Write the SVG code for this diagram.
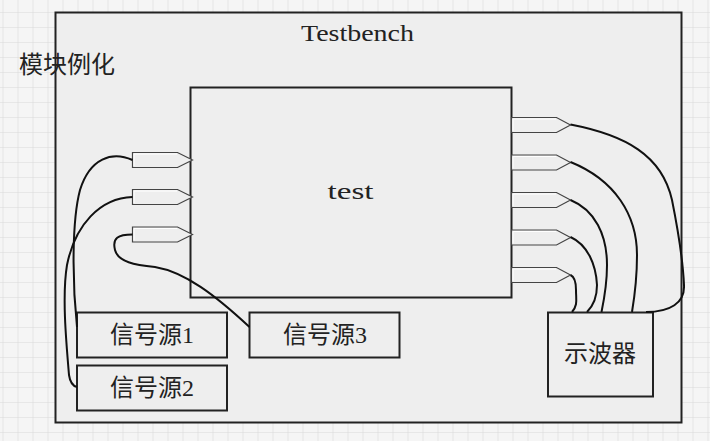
<svg xmlns="http://www.w3.org/2000/svg" width="710" height="441" viewBox="0 0 710 441">
<style>
.box{fill:#eeeeee;stroke:#222;stroke-width:2}
.port{fill:#eeeeee;stroke:#444;stroke-width:1.2}
.hl{fill:none;stroke:#ffffff;stroke-width:1}
.wire{fill:none;stroke:#111;stroke-width:2}
.t{font-family:"Liberation Serif","Noto Sans CJK SC",serif;font-size:24px;fill:#222}
</style>
<defs>
<pattern id="grid" x="2.5" y="12" width="15" height="15" patternUnits="userSpaceOnUse">
<rect width="15" height="15" fill="#f5f5f5"/>
<path d="M0,0 H15 M0,0 V15" stroke="#d9d9d9" stroke-width="1.2" fill="none"/>
</pattern>
<g id="portL"><path class="port" d="M0,0 H45 L60,7.5 L45,15 H0 Z"/><path class="hl" d="M1.5,13.5 V1.5 H44.5"/></g>
<g id="portR"><path class="port" d="M0,0 H45 L59,7.5 L45,15 H0 Z"/><path class="hl" d="M1.5,13.5 V1.5 H44.5"/></g>
</defs>
<rect width="710" height="441" fill="url(#grid)"/>
<g id="testbench">
<rect class="box" x="55.5" y="12.5" width="626" height="410"/>
<text class="t" x="357.5" y="41" text-anchor="middle" textLength="113" lengthAdjust="spacingAndGlyphs">Testbench</text>
</g>
<g id="label-instance">
<text class="t" x="19" y="73">模块例化</text>
</g>
<g id="test">
<rect class="box" x="190.5" y="87.5" width="321" height="210"/>
<text class="t" x="350.5" y="199" text-anchor="middle" textLength="46" lengthAdjust="spacingAndGlyphs">test</text>
<use href="#portL" x="132.5" y="152.5"/>
<use href="#portL" x="132.5" y="189.5"/>
<use href="#portL" x="132.5" y="227"/>
<use href="#portR" x="511.5" y="117.5"/>
<use href="#portR" x="511.5" y="155"/>
<use href="#portR" x="511.5" y="192.5"/>
<use href="#portR" x="511.5" y="230"/>
<use href="#portR" x="511.5" y="267.5"/>
</g>
<g id="src1">
<rect class="box" x="77" y="312.5" width="150" height="45"/>
<text class="t" x="152" y="343" text-anchor="middle">信号源1</text>
</g>
<g id="src2">
<rect class="box" x="77" y="365.5" width="150" height="45"/>
<text class="t" x="152" y="396" text-anchor="middle">信号源2</text>
</g>
<g id="src3">
<rect class="box" x="249.5" y="312.5" width="150" height="45"/>
<text class="t" x="325" y="343" text-anchor="middle">信号源3</text>
</g>
<g id="scope">
<rect class="box" x="548" y="312.5" width="105" height="84"/>
<text class="t" x="600" y="362" text-anchor="middle">示波器</text>
</g>
<g id="connectors">
<path class="wire" d="M132.5,160 C112,151 90,158 80,190 C72,220 72,280 77,327"/>
<path class="wire" d="M132.5,197 C100,198 75,225 67,265 C62,295 66,340 69,375 C70,382 73,386 77,387"/>
<path class="wire" d="M132.5,234.5 C118,234.5 112,238 115,250 C118,262 135,265 155,267 C185,272 215,295 249.5,327"/>
<path class="wire" d="M570.5,275 C575,277 576,282 576,290 C576,300 578,305 572,312"/>
<path class="wire" d="M570.5,237 C588,245 596,265 597,285 C597,298 592,307 587,312"/>
<path class="wire" d="M570.5,200 C595,210 607,235 607,265 C607,285 604,300 601.5,312"/>
<path class="wire" d="M570.5,162 C615,180 637,215 637,255 C637,280 634,300 632,312"/>
<path class="wire" d="M570.5,124.5 C625,135 662,155 672,200 C678,230 683,262 684,285 C685,303 670,312 646,312"/>
</g>
</svg>
